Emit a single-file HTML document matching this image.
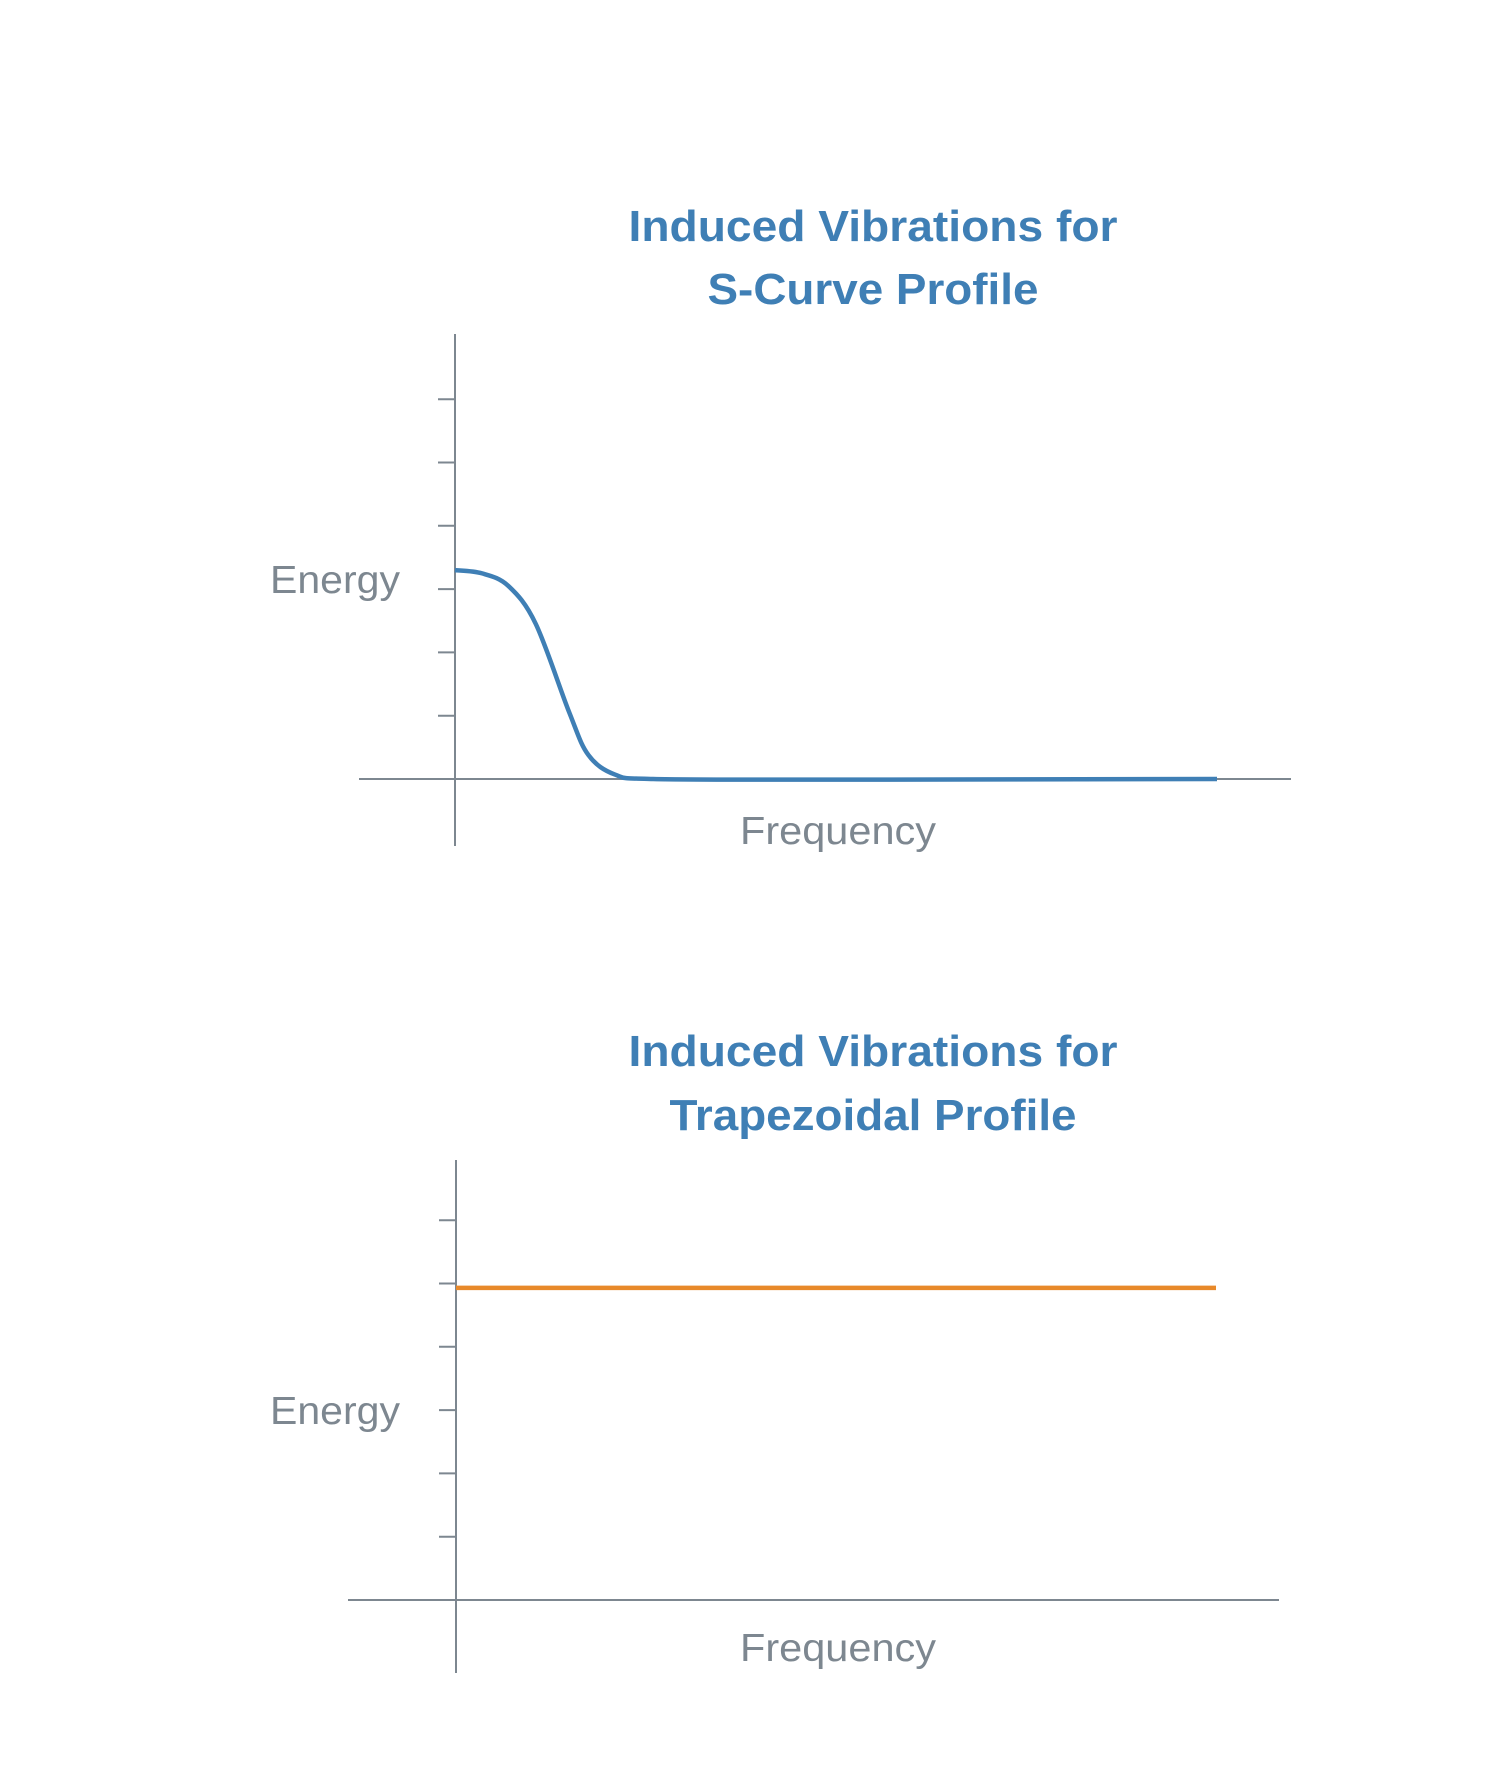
<!DOCTYPE html>
<html><head><meta charset="utf-8"><style>
html,body{margin:0;padding:0;background:#fff;}
svg{display:block;}
text{font-family:"Liberation Sans",sans-serif;}
</style></head><body>
<svg id="chart" width="1500" height="1786" viewBox="0 0 1500 1786"></svg>
<script>
const freqS = [0, 0.35, 0.7, 1.06, 1.5, 1.75, 2.1, 2.6, 5, 10];
const energyS = [3.30, 3.25, 3.05, 2.45, 1.05, 0.38, 0.07, 0.0, -0.01, 0];
const freqT = [0, 10];
const energyT = [4.93, 4.93];
const yTicks = [1, 2, 3, 4, 5, 6];

const NS = 'http://www.w3.org/2000/svg';
const svg = document.getElementById('chart');
const AX = '#7d8790', BLUE = '#3f7fb5', ORANGE = '#e8892a';
function mk(tag, attrs, parent) {
  const e = document.createElementNS(NS, tag);
  for (const k in attrs) e.setAttribute(k, attrs[k]);
  (parent || svg).appendChild(e);
  return e;
}
function smooth(pts) {
  let d = 'M' + pts[0][0] + ',' + pts[0][1];
  for (let i = 0; i < pts.length - 1; i++) {
    const p0 = pts[Math.max(0, i - 1)], p1 = pts[i], p2 = pts[i + 1], p3 = pts[Math.min(pts.length - 1, i + 2)];
    const c1x = p1[0] + (p2[0] - p0[0]) / 6, c1y = p1[1] + (p2[1] - p0[1]) / 6;
    const c2x = p2[0] - (p3[0] - p1[0]) / 6, c2y = p2[1] - (p3[1] - p1[1]) / 6;
    d += ' C' + c1x + ',' + c1y + ' ' + c2x + ',' + c2y + ' ' + p2[0] + ',' + p2[1];
  }
  return d;
}
function drawChart(cfg) {
  const g = mk('g', {});
  
  
  const xS = v => cfg.x0 + v * cfg.xUnit;
  const yS = v => cfg.base - v * cfg.yUnit;
  cfg.title.forEach((t, i) => {
    const tx = mk('text', {x: 873, y: cfg.titleY[i], 'text-anchor': 'middle', fill: BLUE, 'font-size': 44, 'font-weight': 'bold', textLength: cfg.titleW[i], lengthAdjust: 'spacingAndGlyphs'}, g);
    tx.textContent = t;
    
    
  });
  const ya = mk('line', {x1: cfg.x0, y1: cfg.yTop, x2: cfg.x0, y2: cfg.yBot, stroke: AX, 'stroke-width': 2}, g);
  
  
  const xa = mk('line', {x1: cfg.xL, y1: cfg.base, x2: cfg.xR, y2: cfg.base, stroke: AX, 'stroke-width': 2}, g);
  
  
  yTicks.forEach(v => {
    const tk = mk('line', {x1: cfg.x0 - 17, y1: yS(v), x2: cfg.x0, y2: yS(v), stroke: AX, 'stroke-width': 2}, g);
    
    
  });
  const ey = mk('text', {x: 335, y: cfg.energyY, 'text-anchor': 'middle', fill: AX, 'font-size': 39, textLength: 130, lengthAdjust: 'spacingAndGlyphs'}, g);
  ey.textContent = 'Energy';
  
  
  const fx = mk('text', {x: 838, y: cfg.freqY, 'text-anchor': 'middle', fill: AX, 'font-size': 39, textLength: 196, lengthAdjust: 'spacingAndGlyphs'}, g);
  fx.textContent = 'Frequency';
  
  
  const pts = cfg.xs.map((v, i) => [xS(v), yS(cfg.ys[i])]);
  const p = mk('path', {d: smooth(pts), fill: 'none', stroke: cfg.color, 'stroke-width': 4.5, 'stroke-linejoin': 'round'}, g);
  
  
}
drawChart({name: 's-curve-chart', title: ['Induced Vibrations for', 'S-Curve Profile'], titleY: [241, 304], titleW: [489, 331],
  x0: 455, xUnit: 76.2, base: 779, yUnit: 63.3, yTop: 334, yBot: 846, xL: 359, xR: 1291,
  energyY: 593, freqY: 844, xs: freqS, ys: energyS, color: BLUE, lineName: 's-curve-energy-line'});
drawChart({name: 'trapezoidal-chart', title: ['Induced Vibrations for', 'Trapezoidal Profile'], titleY: [1066, 1130], titleW: [489, 407],
  x0: 456, xUnit: 76, base: 1600, yUnit: 63.3, yTop: 1160, yBot: 1673, xL: 348, xR: 1279,
  energyY: 1424, freqY: 1661, xs: freqT, ys: energyT, color: ORANGE, lineName: 'trapezoidal-energy-line'});
</script>
</body></html>
